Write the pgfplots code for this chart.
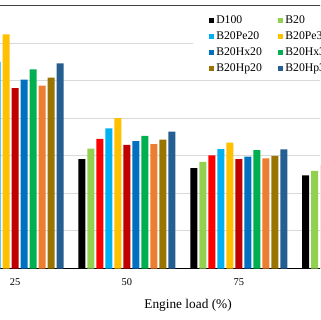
\documentclass[border=0pt]{standalone}
\usepackage{fontspec}
\setmainfont{Liberation Serif}
\usepackage{pgfplots}
\pgfplotsset{compat=1.18}
\definecolor{cD}{HTML}{000000}
\definecolor{cB}{HTML}{92D050}
\definecolor{cPa}{HTML}{FF0000}
\definecolor{cPb}{HTML}{00B0F0}
\definecolor{cPc}{HTML}{FFC000}
\definecolor{cHa}{HTML}{C00000}
\definecolor{cHb}{HTML}{0070C0}
\definecolor{cHc}{HTML}{00B050}
\definecolor{cQa}{HTML}{ED7D31}
\definecolor{cQb}{HTML}{9A7400}
\definecolor{cQc}{HTML}{255E91}
\newcommand{\legtxt}[1]{\makebox[44pt][l]{#1}}
\begin{document}
\begin{tikzpicture}
\path[use as bounding box, clip] (30.71pt,-38.625pt) rectangle (270.71pt,201.375pt);
\begin{axis}[
  at={(0,0)}, anchor=south west,
  x=83.925pt, y=28.18pt,
  xmin=-0.5, xmax=3.5, ymin=0, ymax=7,
  ybar=1.5pt, bar width=5.25pt,
  axis x line*=bottom, axis y line*=left,
  x axis line style={black, line width=0.9pt, -},
  y axis line style={draw=none},
  xtick={0,1,2,3}, xticklabels={25,50,75,100},
  ytick={0,1,...,7}, yticklabels={},
  major tick length=0pt,
  ymajorgrids, grid style={color=black!15, line width=0.7pt},
  extra y ticks={7}, extra y tick labels={},
  extra y tick style={grid style={color=black!75, line width=1.2pt}},
  /pgf/number format/assume math mode=true,
  xticklabel style={font=\fontsize{7.8}{9}\selectfont, anchor=center, yshift=-9.9pt},
  xlabel={Engine load (\%)},
  xlabel style={font=\fontsize{10}{12}\selectfont, at={(rel axis cs:0.5,0)}, anchor=center, yshift=-27.5pt, xshift=3.9pt},
  legend columns=3,
  legend style={at={(axis description cs:0.5228,0.9866)}, anchor=north west, draw=none, fill=white,
    font=\fontsize{8.8}{10}\selectfont, inner xsep=11.4pt, inner ysep=4.6pt,
    nodes={inner xsep=2pt, inner ysep=0pt, text height=6.2pt, text depth=1.8pt},
    row sep=3.9pt, column sep=0pt},
  legend image code/.code={\fill[#1, draw=none] (0pt,-1.9pt) rectangle (3.8pt,1.9pt);},
  clip=true,
]
\addplot[fill=cD, draw=none] coordinates {(0,4.3) (1,2.91) (2,2.67) (3,2.48)};
\addplot[fill=cB, draw=none] coordinates {(0,4.6) (1,3.19) (2,2.84) (3,2.60)};
\addplot[fill=cPa, draw=none] coordinates {(0,5.0) (1,3.45) (2,3.01) (3,2.75)};
\addplot[fill=cPb, draw=none] coordinates {(0,5.5) (1,3.73) (2,3.18) (3,2.90)};
\addplot[fill=cPc, draw=none] coordinates {(0,6.23) (1,4.00) (2,3.35) (3,3.05)};
\addplot[fill=cHa, draw=none] coordinates {(0,4.80) (1,3.29) (2,2.91) (3,2.70)};
\addplot[fill=cHb, draw=none] coordinates {(0,5.03) (1,3.39) (2,2.98) (3,2.75)};
\addplot[fill=cHc, draw=none] coordinates {(0,5.30) (1,3.53) (2,3.15) (3,2.90)};
\addplot[fill=cQa, draw=none] coordinates {(0,4.87) (1,3.31) (2,2.93) (3,2.70)};
\addplot[fill=cQb, draw=none] coordinates {(0,5.08) (1,3.43) (2,3.00) (3,2.75)};
\addplot[fill=cQc, draw=none] coordinates {(0,5.46) (1,3.64) (2,3.17) (3,2.90)};
\addlegendentry{\legtxt{D100}}
\addlegendentry{\legtxt{B20}}
\addlegendentry{\legtxt{B20Pe10}}
\addlegendentry{\legtxt{B20Pe20}}
\addlegendentry{\legtxt{B20Pe30}}
\addlegendentry{\legtxt{B20Hx10}}
\addlegendentry{\legtxt{B20Hx20}}
\addlegendentry{\legtxt{B20Hx30}}
\addlegendentry{\legtxt{B20Hp10}}
\addlegendentry{\legtxt{B20Hp20}}
\addlegendentry{\legtxt{B20Hp30}}
\end{axis}
\end{tikzpicture}
\end{document}
